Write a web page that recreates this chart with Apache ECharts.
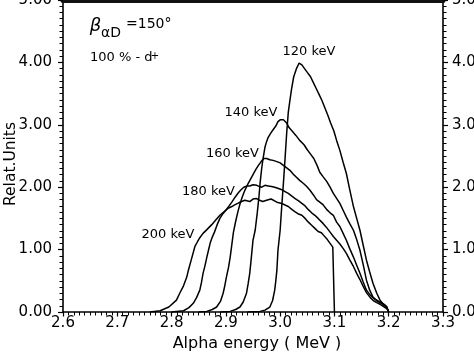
<!DOCTYPE html>
<html>
<head>
<meta charset="utf-8">
<script src="https://cdn.jsdelivr.net/npm/echarts@6/dist/echarts.min.js"></script>
<style>html,body{margin:0;padding:0;background:#fff}#c{width:474px;height:356px}</style>
</head>
<body>
<div id="c"></div>
<script>
// x ticks (MeV) and y ticks (Relat. Units)
const xTicks = [2.6, 2.7, 2.8, 2.9, 3.0, 3.1, 3.2, 3.3];
const yTicks = [0, 1, 2, 3, 4, 5];
const seriesNames = ['120 keV', '140 keV', '160 keV', '180 keV', '200 keV'];

const kev120 = [[2.94,0],[2.963,0.01],[2.972,0.03],[2.981,0.08],[2.986,0.18],[2.990,0.35],[2.992,0.50],[2.994,0.67],[2.996,0.99],[2.998,1.15],[3.000,1.31],[3.003,1.70],[3.006,2.06],[3.009,2.45],[3.012,2.86],[3.015,3.20],[3.018,3.39],[3.021,3.57],[3.025,3.77],[3.030,3.90],[3.035,3.99],[3.040,3.96],[3.045,3.90],[3.050,3.84],[3.056,3.77],[3.061,3.68],[3.066,3.59],[3.071,3.50],[3.077,3.39],[3.082,3.28],[3.088,3.15],[3.093,3.03],[3.099,2.90],[3.104,2.75],[3.110,2.59],[3.116,2.40],[3.122,2.22],[3.128,1.97],[3.135,1.69],[3.141,1.50],[3.147,1.31],[3.153,1.07],[3.159,0.83],[3.165,0.64],[3.171,0.46],[3.178,0.30],[3.184,0.19],[3.190,0.13],[3.196,0.08],[3.200,0]];

const kev140 = [[2.89,0],[2.908,0.01],[2.918,0.04],[2.926,0.08],[2.932,0.16],[2.938,0.30],[2.941,0.45],[2.944,0.62],[2.947,0.88],[2.950,1.15],[2.954,1.31],[2.958,1.60],[2.961,1.85],[2.963,2.06],[2.966,2.30],[2.968,2.43],[2.972,2.64],[2.975,2.73],[2.978,2.80],[2.983,2.87],[2.987,2.92],[2.992,2.98],[2.996,3.05],[3.000,3.08],[3.006,3.08],[3.012,3.03],[3.016,2.96],[3.022,2.90],[3.029,2.83],[3.036,2.75],[3.044,2.68],[3.050,2.60],[3.056,2.53],[3.062,2.46],[3.068,2.35],[3.073,2.24],[3.079,2.17],[3.086,2.09],[3.092,2.00],[3.098,1.90],[3.104,1.82],[3.110,1.74],[3.116,1.63],[3.122,1.52],[3.128,1.42],[3.135,1.31],[3.141,1.16],[3.147,0.99],[3.153,0.76],[3.159,0.51],[3.165,0.35],[3.171,0.24],[3.178,0.18],[3.184,0.15],[3.190,0.13],[3.196,0.09],[3.200,0]];

const kev160 = [[2.85,0],[2.865,0.01],[2.875,0.04],[2.883,0.08],[2.890,0.17],[2.895,0.30],[2.898,0.42],[2.901,0.56],[2.905,0.72],[2.908,0.88],[2.911,1.08],[2.914,1.28],[2.918,1.45],[2.922,1.60],[2.926,1.73],[2.930,1.84],[2.935,1.95],[2.940,2.04],[2.945,2.12],[2.950,2.20],[2.955,2.28],[2.960,2.35],[2.965,2.41],[2.970,2.46],[2.975,2.46],[2.981,2.44],[2.987,2.43],[2.994,2.41],[3.000,2.39],[3.006,2.35],[3.012,2.31],[3.018,2.27],[3.024,2.21],[3.030,2.16],[3.036,2.11],[3.043,2.06],[3.049,2.01],[3.055,1.95],[3.061,1.88],[3.067,1.80],[3.073,1.76],[3.079,1.72],[3.086,1.64],[3.092,1.59],[3.098,1.55],[3.104,1.44],[3.110,1.37],[3.116,1.26],[3.122,1.15],[3.128,1.02],[3.135,0.88],[3.141,0.75],[3.147,0.62],[3.153,0.48],[3.159,0.35],[3.166,0.27],[3.172,0.22],[3.178,0.19],[3.185,0.15],[3.191,0.11],[3.196,0.08],[3.200,0]];

const kev180 = [[2.80,0],[2.822,0.02],[2.832,0.07],[2.840,0.14],[2.846,0.23],[2.852,0.35],[2.855,0.47],[2.858,0.62],[2.862,0.76],[2.865,0.88],[2.868,0.99],[2.871,1.10],[2.875,1.20],[2.879,1.28],[2.884,1.40],[2.889,1.50],[2.895,1.58],[2.900,1.63],[2.906,1.70],[2.911,1.76],[2.917,1.84],[2.923,1.91],[2.928,1.96],[2.933,2.00],[2.939,2.02],[2.944,2.02],[2.950,2.04],[2.957,2.03],[2.962,2.01],[2.966,2.00],[2.972,2.03],[2.978,2.02],[2.984,2.01],[2.990,2.00],[2.997,1.98],[3.003,1.96],[3.009,1.93],[3.015,1.90],[3.021,1.86],[3.027,1.82],[3.034,1.78],[3.040,1.74],[3.046,1.70],[3.052,1.64],[3.058,1.59],[3.064,1.55],[3.070,1.50],[3.079,1.42],[3.085,1.36],[3.092,1.28],[3.098,1.21],[3.104,1.15],[3.110,1.09],[3.116,1.02],[3.122,0.94],[3.128,0.84],[3.135,0.73],[3.141,0.62],[3.147,0.52],[3.153,0.41],[3.159,0.31],[3.166,0.23],[3.172,0.18],[3.178,0.15],[3.185,0.12],[3.192,0.08],[3.197,0.05],[3.200,0]];

const kev200 = [[2.76,0],[2.779,0.02],[2.795,0.08],[2.809,0.19],[2.815,0.30],[2.822,0.42],[2.828,0.56],[2.831,0.67],[2.837,0.86],[2.843,1.05],[2.848,1.13],[2.852,1.19],[2.858,1.26],[2.865,1.32],[2.874,1.40],[2.881,1.47],[2.889,1.55],[2.897,1.61],[2.904,1.66],[2.911,1.69],[2.917,1.72],[2.924,1.75],[2.929,1.77],[2.935,1.79],[2.944,1.77],[2.950,1.81],[2.956,1.82],[2.962,1.79],[2.968,1.77],[2.975,1.79],[2.983,1.81],[2.988,1.79],[2.994,1.76],[3.003,1.74],[3.010,1.71],[3.015,1.69],[3.022,1.64],[3.027,1.61],[3.034,1.57],[3.040,1.55],[3.046,1.50],[3.052,1.44],[3.058,1.39],[3.064,1.34],[3.070,1.29],[3.076,1.27],[3.081,1.22],[3.087,1.16],[3.092,1.10],[3.097,1.04],[3.100,0]];

const curves = [kev120, kev140, kev160, kev180, kev200];

const FONT = '"DejaVu Sans", sans-serif';
const chart = echarts.init(document.getElementById('c'), null, {renderer: 'canvas'});

function yAxisDef(pos, margin) {
  return {
    type: 'value', position: pos, min: yTicks[0], max: yTicks[yTicks.length - 1], interval: 1,
    axisLine: {show: true, lineStyle: {color: '#000', width: 1.6}},
    axisTick: {show: true, inside: false, length: 5, lineStyle: {color: '#000', width: 1.2}},
    minorTick: {show: true, splitNumber: 10, length: 3.5, lineStyle: {color: '#000', width: 1}},
    splitLine: {show: false},
    axisLabel: {show: true, margin: margin, color: '#000', fontFamily: FONT, fontSize: 15,
      showMinLabel: true, showMaxLabel: true, formatter: v => v.toFixed(2)}
  };
}

chart.setOption({
  animation: false,
  backgroundColor: '#fff',
  grid: {left: 63, right: 31, top: 0, bottom: 44, containLabel: false, outerBoundsMode: 'none'},
  xAxis: [{
    type: 'value', position: 'bottom', min: xTicks[0], max: xTicks[xTicks.length - 1], interval: 0.1,
    axisLine: {show: true, onZero: false, lineStyle: {color: '#000', width: 1.6}},
    axisTick: {show: true, inside: false, length: 4.5, lineStyle: {color: '#000', width: 1.2}},
    minorTick: {show: true, splitNumber: 10, length: 3.5, lineStyle: {color: '#000', width: 1}},
    splitLine: {show: false},
    axisLabel: {show: true, margin: 4, color: '#000', fontFamily: FONT, fontSize: 15,
      showMinLabel: true, showMaxLabel: true, formatter: v => v.toFixed(1)}
  }, {
    type: 'value', position: 'top', min: xTicks[0], max: xTicks[xTicks.length - 1], interval: 0.1,
    axisLine: {show: true, onZero: false, lineStyle: {color: '#111', width: 5}},
    axisTick: {show: false}, axisLabel: {show: false}, splitLine: {show: false}
  }],
  yAxis: [yAxisDef('left', 11), yAxisDef('right', 9)],
  series: curves.map((d, i) => ({
    name: seriesNames[i], type: 'line', data: d, xAxisIndex: 0, yAxisIndex: 0,
    showSymbol: false, symbol: 'none', smooth: false,
    lineStyle: {color: '#000', width: 1.5}
  })),
  graphic: [
    {type: 'text', x: 309, y: 52, style: {text: '120 keV', font: '13px ' + FONT, fill: '#000', align: 'center', verticalAlign: 'middle'}},
    {type: 'text', x: 251, y: 113, style: {text: '140 keV', font: '13px ' + FONT, fill: '#000', align: 'center', verticalAlign: 'middle'}},
    {type: 'text', x: 232.5, y: 154, style: {text: '160 keV', font: '13px ' + FONT, fill: '#000', align: 'center', verticalAlign: 'middle'}},
    {type: 'text', x: 208.5, y: 192, style: {text: '180 keV', font: '13px ' + FONT, fill: '#000', align: 'center', verticalAlign: 'middle'}},
    {type: 'text', x: 168, y: 235, style: {text: '200 keV', font: '13px ' + FONT, fill: '#000', align: 'center', verticalAlign: 'middle'}},
    {type: 'text', x: 95.5, y: 26, style: {text: 'β', font: 'italic 18px ' + FONT, fill: '#000', align: 'center', verticalAlign: 'middle'}},
    {type: 'text', x: 101, y: 33, style: {text: 'αD', font: '14px ' + FONT, fill: '#000', align: 'left', verticalAlign: 'middle'}},
    {type: 'text', x: 126, y: 24.5, style: {text: '=150°', font: '14px ' + FONT, fill: '#000', align: 'left', verticalAlign: 'middle'}},
    {type: 'text', x: 90, y: 58, style: {text: '100 % - d', font: '13px ' + FONT, fill: '#000', align: 'left', verticalAlign: 'middle'}},
    {type: 'text', x: 155, y: 56, style: {text: '+', font: '10px ' + FONT, fill: '#000', align: 'center', verticalAlign: 'middle'}},
    {type: 'text', x: 257, y: 344, style: {text: 'Alpha energy ( MeV )', font: '16px ' + FONT, fill: '#000', align: 'center', verticalAlign: 'middle'}},
    {type: 'text', x: 11, y: 164, rotation: Math.PI / 2, style: {text: 'Relat.Units', font: '15.5px ' + FONT, fill: '#000', align: 'center', verticalAlign: 'middle'}}
  ]
});
</script>
</body>
</html>
